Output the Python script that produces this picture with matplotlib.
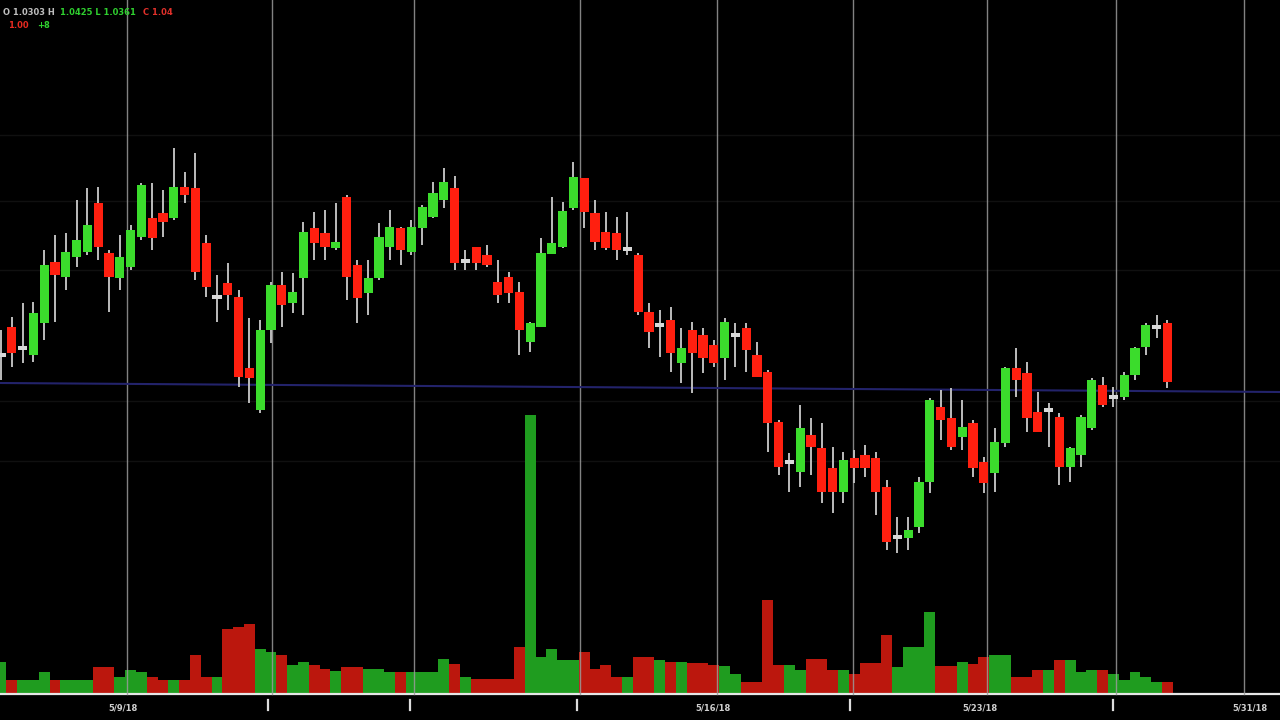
import numpy as np
import matplotlib.pyplot as plt

# OHLC (price units), one candle per session
opens = [363, 393, 370, 365, 397, 458, 443, 463, 468, 517,
         467, 442, 453, 483, 502, 507, 502, 533, 532, 477,
         421, 437, 423, 352, 310, 390, 435, 417, 442, 492,
         487, 472, 523, 455, 427, 442, 473, 492, 468, 492,
         503, 520, 532, 457, 473, 465, 438, 443, 428,
         378, 393, 466, 473, 512, 542, 507, 488, 487, 469,
         465, 408, 393, 400, 357, 390, 385, 375, 362, 383,
         392, 365, 348, 298, 256, 248, 285, 272, 252, 228,
         262, 265, 262, 233, 181, 182, 193, 238, 313, 302,
         283, 297, 258, 247, 277, 352, 347, 308, 308, 303,
         253, 265, 292, 335, 321, 323, 345, 373, 391, 397]
highs = [390, 403, 417, 418, 470, 485, 487, 520, 532, 533,
         470, 485, 495, 537, 537, 530, 572, 548, 567, 485,
         445, 457, 430, 402, 400, 438, 448, 447, 498, 508,
         510, 517, 525, 460, 460, 497, 510, 493, 500, 515,
         538, 552, 544, 470, 473, 475, 460, 448, 438,
         398, 482, 523, 518, 558, 542, 520, 508, 503, 508,
         467, 417, 410, 413, 392, 398, 392, 380, 402, 397,
         397, 378, 350, 300, 267, 315, 302, 297, 273, 268,
         270, 275, 268, 240, 203, 203, 243, 322, 330, 332,
         320, 300, 263, 292, 353, 372, 358, 328, 317, 307,
         273, 305, 342, 343, 333, 348, 373, 397, 405, 400]
lows = [340, 353, 357, 358, 380, 398, 430, 453, 465, 460,
        408, 430, 450, 480, 470, 483, 500, 517, 440, 423,
        398, 410, 333, 317, 307, 377, 393, 407, 405, 460,
        460, 470, 420, 397, 405, 440, 460, 455, 465, 475,
        502, 512, 450, 450, 450, 453, 417, 417, 365,
        368, 393, 466, 472, 510, 492, 470, 470, 460, 465,
        405, 372, 363, 348, 337, 327, 347, 353, 340, 353,
        348, 343, 268, 245, 228, 233, 245, 217, 207, 217,
        237, 243, 205, 170, 167, 170, 187, 227, 280, 270,
        270, 243, 227, 228, 273, 323, 288, 288, 273, 235,
        238, 253, 290, 313, 313, 320, 340, 365, 382, 332]
closes = [367, 367, 374, 407, 455, 445, 468, 480, 495, 473,
          443, 463, 490, 535, 482, 498, 533, 525, 448, 433,
          425, 425, 343, 342, 390, 435, 415, 428, 488, 477,
          473, 478, 443, 422, 442, 483, 493, 470, 493, 513,
          527, 538, 457, 461, 457, 455, 425, 427, 390,
          397, 467, 477, 509, 543, 508, 478, 472, 470, 473,
          408, 388, 397, 367, 372, 367, 362, 357, 398, 387,
          370, 343, 297, 253, 260, 292, 273, 228, 228, 260,
          252, 252, 228, 178, 185, 190, 238, 320, 300, 273,
          293, 252, 237, 278, 352, 340, 302, 288, 312, 253,
          272, 303, 340, 315, 325, 345, 372, 395, 395, 338]
volumes = [32, 14, 14, 14, 22, 14, 14, 14, 14, 27,
           27, 17, 24, 22, 17, 14, 14, 14, 39, 17,
           17, 65, 67, 70, 45, 42, 39, 29, 32, 29,
           25, 23, 27, 27, 25, 25, 22, 22, 22, 22,
           22, 35, 30, 17, 15, 15, 15, 15, 47, 279,
           37, 45, 34, 34, 42, 25, 29, 17, 17, 37,
           37, 34, 32, 32, 31, 31, 29, 28, 20, 12,
           12, 94, 29, 29, 24, 35, 35, 24, 24, 20,
           31, 31, 59, 27, 47, 47, 82, 28, 28, 32,
           30, 37, 39, 39, 17, 17, 24, 24, 34, 34,
           22, 24, 24, 20, 14, 22, 17, 12, 12]

grid_x = [11.67, 25.09, 38.24, 53.61, 66.30, 78.89, 91.30, 103.24, 115.09]
tick_x = [24.72, 37.87, 53.33, 78.61, 102.96]
label_x = [11.3, 65.9, 90.65, 115.65]
date_labels = ["5/9/18", "5/16/18", "5/23/18", "5/31/18"]
hlines = [533, 467, 398, 267, 207]

o = np.array(opens)
h = np.array(highs)
l = np.array(lows)
c = np.array(closes)
v = np.array(volumes)
x = np.arange(len(o))

GREEN = "#3bdc2c"
RED = "#ff1f0f"
DOJI = "#d8d8d8"
body_col = np.where(np.abs(c - o) <= 4, DOJI, np.where(c > o, GREEN, RED))
vol_col = np.where(c >= o, "#1f9c1f", "#bb170d")

fig = plt.figure(figsize=(12.8, 7.2), dpi=100, facecolor="black")
xlim = (-1 / 10.8, 1279 / 10.8)

# volume panel (1 unit = 1 px above the baseline)
axv = fig.add_axes([0, 0, 1, 1], zorder=1)
axv.set_facecolor("black")
axv.set_xlim(*xlim)
axv.set_ylim(-26, 694)
for yv in hlines:
    axv.axhline(yv + 26, color="#101010", lw=1, zorder=0)
axv.bar(x, v, width=1.0, color=vol_col, linewidth=0, zorder=1)
axv.axhline(0, color="#e6e6e6", lw=1.6)
for t in tick_x:
    axv.plot([t, t], [-6, -16], color="#dddddd", lw=1.6)
for t, lab in zip(label_x, date_labels):
    axv.text(t, -14, lab, color="#cfcfcf", fontsize=6, fontweight="bold",
             ha="center", va="center")
axv.axis("off")

# price panel
ax = fig.add_axes([0, 0, 1, 1], zorder=2)
ax.patch.set_alpha(0)
ax.set_xlim(*xlim)
ax.set_ylim(0, 720)
for g in grid_x:
    ax.axvline(g, ymin=26 / 720, ymax=1, color="#9a9a9a", lw=1, alpha=0.85, zorder=0)
ax.plot([xlim[0], xlim[1]], [337, 328], color="#23236b", lw=1.5, zorder=0)

ax.vlines(x, l, h, color="#bdbdbd", lw=1.4, zorder=2)
bottom = np.minimum(o, c)
height = np.maximum(np.abs(c - o), 3)
ax.bar(x, height, bottom=bottom, width=0.85, color=body_col, linewidth=0, zorder=3)
ax.axis("off")

# header text
fig.text(0.002, 0.983, "O 1.0303 H", color="#bdbdbd", fontsize=6, fontweight="bold", va="center")
fig.text(0.047, 0.983, "1.0425 L 1.0361", color="#2fcf2f", fontsize=6, fontweight="bold", va="center")
fig.text(0.112, 0.983, "C 1.04", color="#e0302a", fontsize=6, fontweight="bold", va="center")
fig.text(0.006, 0.965, "1.00", color="#e62a20", fontsize=6, fontweight="bold", va="center")
fig.text(0.029, 0.965, "+8", color="#2fcf2f", fontsize=6, fontweight="bold", va="center")

plt.savefig("out.png", dpi=100, facecolor="black")
